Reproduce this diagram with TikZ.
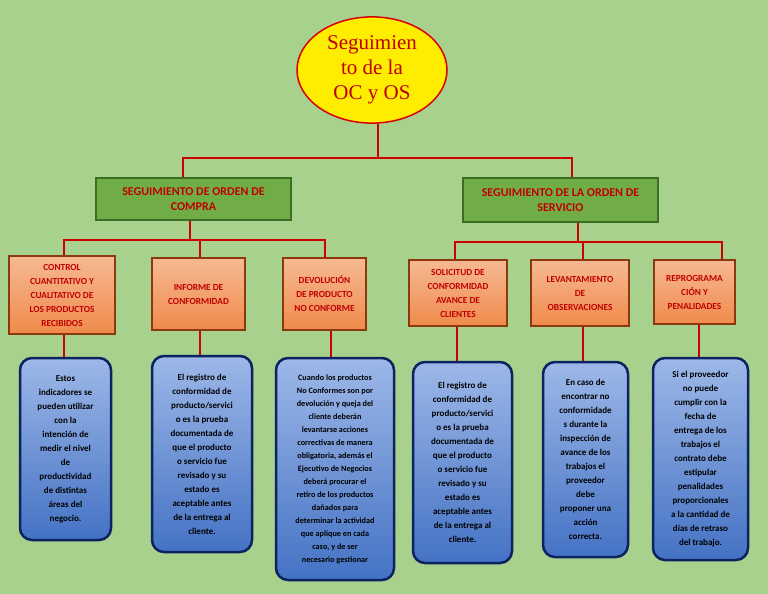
\documentclass[tikz,border=0pt]{standalone}
\usepackage{fontspec}
\setmainfont{Carlito}
\newfontfamily\titlefont{Liberation Serif}
\usetikzlibrary{shapes.geometric}
\definecolor{bg}{HTML}{A9D18E}
\definecolor{redt}{HTML}{C00000}
\definecolor{orf}{HTML}{F08A4B}
\definecolor{orb}{HTML}{8B3A0F}
\definecolor{grf}{HTML}{70AD47}
\definecolor{grb}{HTML}{3B6E22}
\definecolor{navy}{HTML}{0D2260}
\definecolor{bltop}{HTML}{9DB8E8}
\definecolor{blbot}{HTML}{4472C4}
\tikzset{
 conn/.style={draw=red!80!black,line width=1.2pt},
 greenbox/.style={draw=grb,line width=2pt,fill=grf,text=redt,font=\bfseries\fontsize{12}{15}\selectfont,align=center,inner sep=0pt},
 orbox/.style={draw=orb,line width=2pt,top color=orf!60!white,bottom color=orf,text=redt,font=\bfseries\fontsize{9.3}{14}\selectfont,align=center,inner sep=0pt},
 bluebox/.style={draw=navy,line width=2.5pt,rounded corners=12pt,top color=bltop,bottom color=blbot,text=black,font=\bfseries\fontsize{9}{14}\selectfont,align=center,inner sep=0pt},
}
\begin{document}
\begin{tikzpicture}[x=1pt,y=-1pt]
\fill[bg] (0,0) rectangle (768,594);
\useasboundingbox (0,0) rectangle (768,594);
\node[ellipse,draw=red!85!black,line width=1.5pt,fill=yellow!95!orange,minimum width=150,minimum height=98,text=redt,align=center,font=\titlefont\fontsize{21}{25}\selectfont] (title) at (372,70) {Seguimien\\to de la\\OC y OS};
% level 1
\node[greenbox,minimum width=195,minimum height=42] (g1) at (193.5,199) {SEGUIMIENTO DE ORDEN DE\\COMPRA};
\node[greenbox,minimum width=195,minimum height=44] (g2) at (560.5,200) {SEGUIMIENTO DE LA ORDEN DE\\SERVICIO};
\coordinate (b1) at (378,158);
\draw[conn] (b1 |- title.south) -- (b1);
\draw[conn] (g1.north -| 183,0) -- (183,158) -- (572,158) -- (g2.north -| 572,0);
% orange
\node[orbox,minimum width=106,minimum height=78] (o1) at (62,295) {CONTROL\\CUANTITATIVO Y\\CUALITATIVO DE\\LOS PRODUCTOS\\RECIBIDOS};
\node[orbox,minimum width=93,minimum height=72] (o2) at (198.5,294) {INFORME DE\\CONFORMIDAD};
\node[orbox,minimum width=83,minimum height=72] (o3) at (324.5,294) {DEVOLUCIÓN\\DE PRODUCTO\\NO CONFORME};
\node[orbox,minimum width=98,minimum height=66] (o4) at (458,293) {SOLICITUD DE\\CONFORMIDAD\\AVANCE DE\\CLIENTES};
\node[orbox,minimum width=98,minimum height=66] (o5) at (580,293) {LEVANTAMIENTO\\DE\\OBSERVACIONES};
\node[orbox,minimum width=81,minimum height=64] (o6) at (694.5,292) {REPROGRAMA\\CIÓN Y\\PENALIDADES};
\coordinate (c1) at (190,240);
\coordinate (c2) at (578,242);
\draw[conn] (g1.south -| c1) -- (c1);
\draw[conn] (o1.north -| 64,0) -- (64,240) -- (325,240) -- (325,258);
\draw[conn] (200,240) -- (o2.north -| 200,0);
\draw[conn] (g2.south -| c2) -- (c2);
\draw[conn] (o4.north -| 455,0) -- (455,242) -- (722,242) -- (o6.north -| 722,0);
\draw[conn] (583,242) -- (o5.north -| 583,0);
% blue
\node[bluebox,minimum width=91,minimum height=182] (u1) at (65.5,449) {Estos\\indicadores se\\pueden utilizar\\con la\\intención de\\medir el nivel\\de\\productividad\\de distintas\\áreas del\\negocio.};
\node[bluebox,minimum width=100,minimum height=196] (u2) at (202,454) {El registro de\\conformidad de\\producto/servici\\o es la prueba\\documentada de\\que el producto\\o servicio fue\\revisado y su\\estado es\\aceptable antes\\de la entrega al\\cliente.};
\node[bluebox,minimum width=118,minimum height=222,font=\bfseries\fontsize{8.2}{13}\selectfont] (u3) at (335,469) {Cuando los productos\\No Conformes son por\\devolución y queja del\\cliente deberán\\levantarse acciones\\correctivas de manera\\obligatoria, además el\\Ejecutivo de Negocios\\deberá procurar el\\retiro de los productos\\dañados para\\determinar la actividad\\que aplique en cada\\caso, y de ser\\necesario gestionar};
\node[bluebox,minimum width=99,minimum height=201] (u4) at (462.5,462.5) {El registro de\\conformidad de\\producto/servici\\o es la prueba\\documentada de\\que el producto\\o servicio fue\\revisado y su\\estado es\\aceptable antes\\de la entrega al\\cliente.};
\node[bluebox,minimum width=85,minimum height=195] (u5) at (585.5,459.5) {En caso de\\encontrar no\\conformidade\\s durante la\\inspección de\\avance de los\\trabajos el\\proveedor\\debe\\proponer una\\acción\\correcta.};
\node[bluebox,minimum width=95,minimum height=202] (u6) at (700.5,459) {Si el proveedor\\no puede\\cumplir con la\\fecha de\\entrega de los\\trabajos el\\contrato debe\\estipular\\penalidades\\proporcionales\\a la cantidad de\\días de  retraso\\del trabajo.};
\draw[conn] (o1.south -| 64,0) -- (u1.north -| 64,0);
\draw[conn] (o2.south -| 200,0) -- (u2.north -| 200,0);
\draw[conn] (o3.south -| 331,0) -- (u3.north -| 331,0);
\draw[conn] (o4.south -| 457,0) -- (u4.north -| 457,0);
\draw[conn] (o5.south -| 583,0) -- (u5.north -| 583,0);
\draw[conn] (o6.south -| 699,0) -- (u6.north -| 699,0);
\end{tikzpicture}
\end{document}
